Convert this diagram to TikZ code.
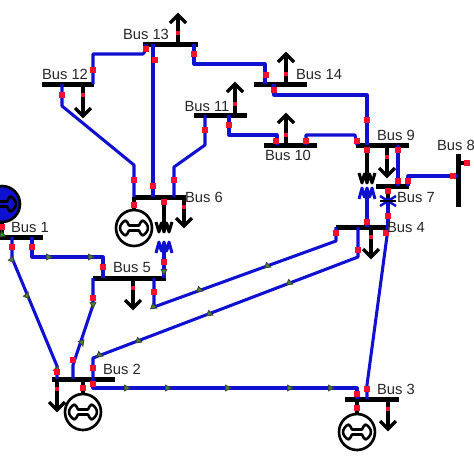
\documentclass[tikz,border=0pt]{standalone}
\usepackage{fontspec}
\setmainfont{Liberation Sans}
\definecolor{linkblue}{HTML}{1010D0}
\definecolor{tagred}{HTML}{F5102E}
\definecolor{flowgreen}{HTML}{3E8A30}
\tikzset{
  x=0.02cm,y=-0.02cm,
  hbus/.style={fill=black,inner sep=0pt,minimum height=0.1cm,rectangle},
  vbus/.style={fill=black,inner sep=0pt,minimum width=0.1cm,rectangle},
  link/.style={draw=linkblue,line width=1.75pt,line join=round},
  stub/.style={draw=black,line width=1.75pt},
  load/.style={draw=black,line width=1.75pt},
  head/.style={draw=black,line width=2pt,line join=miter},
  tag/.style={fill=tagred,inner sep=0pt,minimum size=0.125cm,rectangle},
  tagsm/.style={fill=tagred,inner sep=0pt,minimum width=0.07cm,minimum height=0.085cm,rectangle},
  lbl/.style={inner sep=0pt,font=\fontsize{8.4}{10}\selectfont,text=black!85},
  gen/.style={circle,draw=black,line width=1.5pt,fill=white,minimum size=0.72cm,inner sep=0pt},
}
\newcommand{\flowmark}[4]{% x y angle colour
  \filldraw[fill=#4,draw=black!75,line width=0.5pt,shift={(#1,#2)},rotate=#3] (-2.5,-2.8) -- (3,0) -- (-2.5,2.8) -- cycle;}
\newcommand{\genglyph}[3]{% x y colour
  \draw[#3,line width=1.45pt,line join=round,shift={(#1,#2)}]
    (-5,-2.5) -- (5,-2.5) .. controls (6,-4) and (7,-7.5) .. (8.5,-7.5) .. controls (11.5,-6.5) and (14,-2.5) .. (14,0)
    .. controls (14,2.5) and (11.5,6.5) .. (8.5,7.5) .. controls (7,7.5) and (6,4) .. (5,2.5) -- (-5,2.5)
    .. controls (-6,4) and (-7,7.5) .. (-8.5,7.5) .. controls (-11.5,6.5) and (-14,2.5) .. (-14,0)
    .. controls (-14,-2.5) and (-11.5,-6.5) .. (-8.5,-7.5) .. controls (-7,-7.5) and (-6,-4) .. (-5,-2.5) -- cycle;}
\newcommand{\coilblack}[2]{%
  \draw[black,line width=1.7pt,line join=round,shift={(#1,#2)}]
    (-8,-5) -- (-5,5) -- (-2.7,-4) -- (0,5) -- (2.7,-4) -- (5,5) -- (8,-5);
  \fill[black,shift={(#1,#2)}] (-2,-6) rectangle (2,0);}
\newcommand{\coilblue}[2]{%
  \draw[linkblue,line width=1.7pt,line join=round,shift={(#1,#2)}]
    (-8,6) -- (-5,-5) -- (-2.7,4) -- (0,-5) -- (2.7,4) -- (5,-5) -- (8,6);}
\begin{document}
\begin{tikzpicture}
\useasboundingbox (0,0) rectangle (474,474);
\clip (0,0) rectangle (474,474);
% buses
\node[hbus,minimum width=1.1cm] (b13) at (170.5,44) {};
\node[hbus,minimum width=1.04cm] (b12) at (68,84) {};
\node[hbus,minimum width=1.06cm] (b14) at (280.5,84) {};
\node[hbus,minimum width=1.06cm] (b11) at (220.5,115) {};
\node[hbus,minimum width=1.06cm] (b10) at (290.5,145) {};
\node[hbus,minimum width=1.06cm] (b9) at (382.5,145) {};
\node[vbus,minimum height=1.06cm] (b8) at (458,180.5) {};
\node[hbus,minimum width=0.66cm] (b7) at (392.5,186) {};
\node[hbus,minimum width=1.04cm] (b4) at (362,227) {};
\node[hbus,minimum width=1.06cm] (b6) at (159.5,197) {};
\node[hbus,minimum width=1.46cm] (b5) at (129.5,278) {};
\node[hbus,minimum width=0.86cm] (b1) at (21.5,237) {};
\node[hbus,minimum width=1.26cm] (b2) at (83.5,379) {};
\node[hbus,minimum width=1.08cm] (b3) at (372,399) {};
% generators
\node[gen] (g6) at (134,228) {};
\node[gen] (g2) at (83,412) {};
\node[gen] (g3) at (357,432) {};
\node[gen,fill=linkblue] (g1) at (2,204) {};
\genglyph{134}{228}{black}
\genglyph{83}{412}{black}
\genglyph{357}{432}{black}
\genglyph{2}{204}{black}
\draw[stub] (g1) -- (2,0 |- b1);
\draw[stub] (g6) -- (134,0 |- b6);
\draw[stub] (g2) -- (83,0 |- b2);
\draw[stub] (g3) -- (357,0 |- b3);
% named turning points shared by the connectors
\coordinate (c12) at (62,106);
\coordinate (c6a) at (134,165);
\coordinate (c6b) at (174,167);
\coordinate (c11) at (205,145);
% branches
\draw[link] (12,0 |- b1) -- (12,258) -- (57,366) -- (57,0 |- b2);
\draw[link] (32,0 |- b1) -- (32,257) -- (103,257) -- (103,0 |- b5);
\draw[link] (93,0 |- b5) -- (93,305) -- (73,365) -- (73,0 |- b2);
\draw[link] (154,0 |- b5) -- (154,307) -- (336,241) -- (336,0 |- b4);
\draw[link] (93,0 |- b2) -- (93,358) -- (358,257) -- (358,0 |- b4);
\draw[link] (93,0 |- b2) -- (93,388) -- (357,388) -- (357,0 |- b3);
\draw[link] (367,0 |- b3) -- (367,385) -- (387,236) -- (387,0 |- b4);
\draw[link] (93,0 |- b12) -- (93,54) -- (143,54) -- (146,50) -- (146,0 |- b13);
\draw[link] (62,0 |- b12) -- (c12) -- (c6a) -- (134,0 |- b6);
\draw[link] (153,0 |- b13) -- (153,0 |- b6);
\draw[link] (194,0 |- b13) -- (194,64) -- (265,64) -- (265,0 |- b14);
\draw[link] (205,0 |- b11) -- (c11) -- (c6b) -- (174,0 |- b6);
\draw[link] (229,0 |- b11) -- (229,135) -- (277,135) -- (277,0 |- b10);
\draw[link] (306,0 |- b10) -- (306,135) -- (355,135) -- (357,0 |- b9);
\draw[link] (274,0 |- b14) -- (274,95) -- (367,95) -- (367,0 |- b9);
\draw[link] (398,0 |- b9) -- (398,0 |- b7);
\draw[link] (408,0 |- b7) -- (408,176) -- (458,176);
\draw[stub] (b8.center |- 0,163) -- (467,163);
% transformers
\draw[stub] (367,0 |- b9) -- (367,176);
\draw[link] (367,194) -- (367,0 |- b4);
\coilblack{367}{178}
\coilblue{367}{193}
\draw[stub] (164,0 |- b6) -- (164,224);
\draw[link] (164,244) -- (164,0 |- b5);
\coilblack{164}{227}
\coilblue{164}{247}
\draw[stub] (388,0 |- b7) -- (388,198);
\draw[link] (388,198) -- (388,0 |- b4);
\draw[linkblue,line width=1.4pt] (380,196) -- (396,206) (380,206) -- (396,196);
\draw[black,line width=1pt] (380,201) -- (396,201);
% loads
\draw[load] (178,0 |- b13) -- (178,15);
\draw[head] (170,23) -- (178,15) -- (186,23);
\draw[load] (83,0 |- b12) -- (83,116);
\draw[head] (75,108) -- (83,116) -- (91,108);
\draw[load] (286,0 |- b14) -- (286,54);
\draw[head] (278,62) -- (286,54) -- (294,62);
\draw[load] (235,0 |- b11) -- (235,84);
\draw[head] (227,92) -- (235,84) -- (243,92);
\draw[load] (286,0 |- b10) -- (286,115);
\draw[head] (278,123) -- (286,115) -- (294,123);
\draw[load] (387,0 |- b9) -- (387,176);
\draw[head] (379,168) -- (387,176) -- (395,168);
\draw[load] (371,0 |- b4) -- (371,257);
\draw[head] (363,249) -- (371,257) -- (379,249);
\draw[load] (184,0 |- b6) -- (184,226);
\draw[head] (176,218) -- (184,226) -- (192,218);
\draw[load] (133,0 |- b5) -- (133,308);
\draw[head] (125,300) -- (133,308) -- (141,300);
\draw[load] (57,0 |- b2) -- (57,410);
\draw[head] (49,402) -- (57,410) -- (65,402);
\draw[load] (388,0 |- b3) -- (388,429);
\draw[head] (380,421) -- (388,429) -- (396,421);
% flow marks
\flowmark{49}{257}{0}{flowgreen}
\flowmark{91}{257}{0}{flowgreen}
\flowmark{12}{259}{67}{flowgreen}
\flowmark{27}{295}{67}{flowgreen}
\flowmark{57}{369}{67}{flowgreen}
\flowmark{93}{305}{-90}{flowgreen}
\flowmark{82}{343}{-72}{flowgreen}
\flowmark{154}{307}{-20}{flowgreen}
\flowmark{200}{290}{-20}{flowgreen}
\flowmark{268}{266}{-20}{flowgreen}
\flowmark{100}{355}{-21}{flowgreen}
\flowmark{139}{341}{-21}{flowgreen}
\flowmark{210}{314}{-21}{flowgreen}
\flowmark{290}{283}{-21}{flowgreen}
\flowmark{127}{388}{0}{flowgreen}
\flowmark{168}{388}{0}{flowgreen}
\flowmark{228}{388}{0}{flowgreen}
\flowmark{290}{388}{0}{flowgreen}
\flowmark{331}{388}{0}{flowgreen}
\flowmark{164}{272}{-90}{flowgreen}
\flowmark{2}{234}{100}{green!70!black}
% red tags
\foreach \px/\py in {146/49,93/70,62/95,155/60,153/186,194/54,266/75,205/130,174/180,134/180,
  229/125,276/141,306/141,357/141,274/90,367/120,367/150,398/150,398/181,408/181,453/176,467/163,
  388/191,388/216,367/222,386/233,336/233,358/250,357/394,367/389,357/408,
  134/205,164/202,164/262,154/292,93/298,103/267,12/247,32/247,2/227,
  57/372,73/360,93/368,93/384,83/388}
  {\node[tag] at (\px,\py) {};}
\foreach \px/\py in {178/33,83/95,286/74,235/104,286/135,387/157,371/237,184/207,133/288,57/389,388/409}
  {\node[tagsm] at (\px,\py) {};}
% labels
\node[lbl] (l13) at (146,34) {Bus 13};
\node[lbl] (l12) at (65,74) {Bus 12};
\node[lbl] (l14) at (319,74) {Bus 14};
\node[lbl] (l11) at (207,106) {Bus 11};
\node[lbl] (l10) at (288,155) {Bus 10};
\node[lbl] (l9) at (396,135) {Bus 9};
\node[lbl] (l8) at (456,145) {Bus 8};
\node[lbl] (l7) at (416,197) {Bus 7};
\node[lbl] (l4) at (406,227) {Bus 4};
\node[lbl] (l6) at (204,197) {Bus 6};
\node[lbl] (l5) at (132,267) {Bus 5};
\node[lbl] (l1) at (30,227) {Bus 1};
\node[lbl] (l2) at (122,369) {Bus 2};
\node[lbl] (l3) at (396,389) {Bus 3};
\end{tikzpicture}
\end{document}
